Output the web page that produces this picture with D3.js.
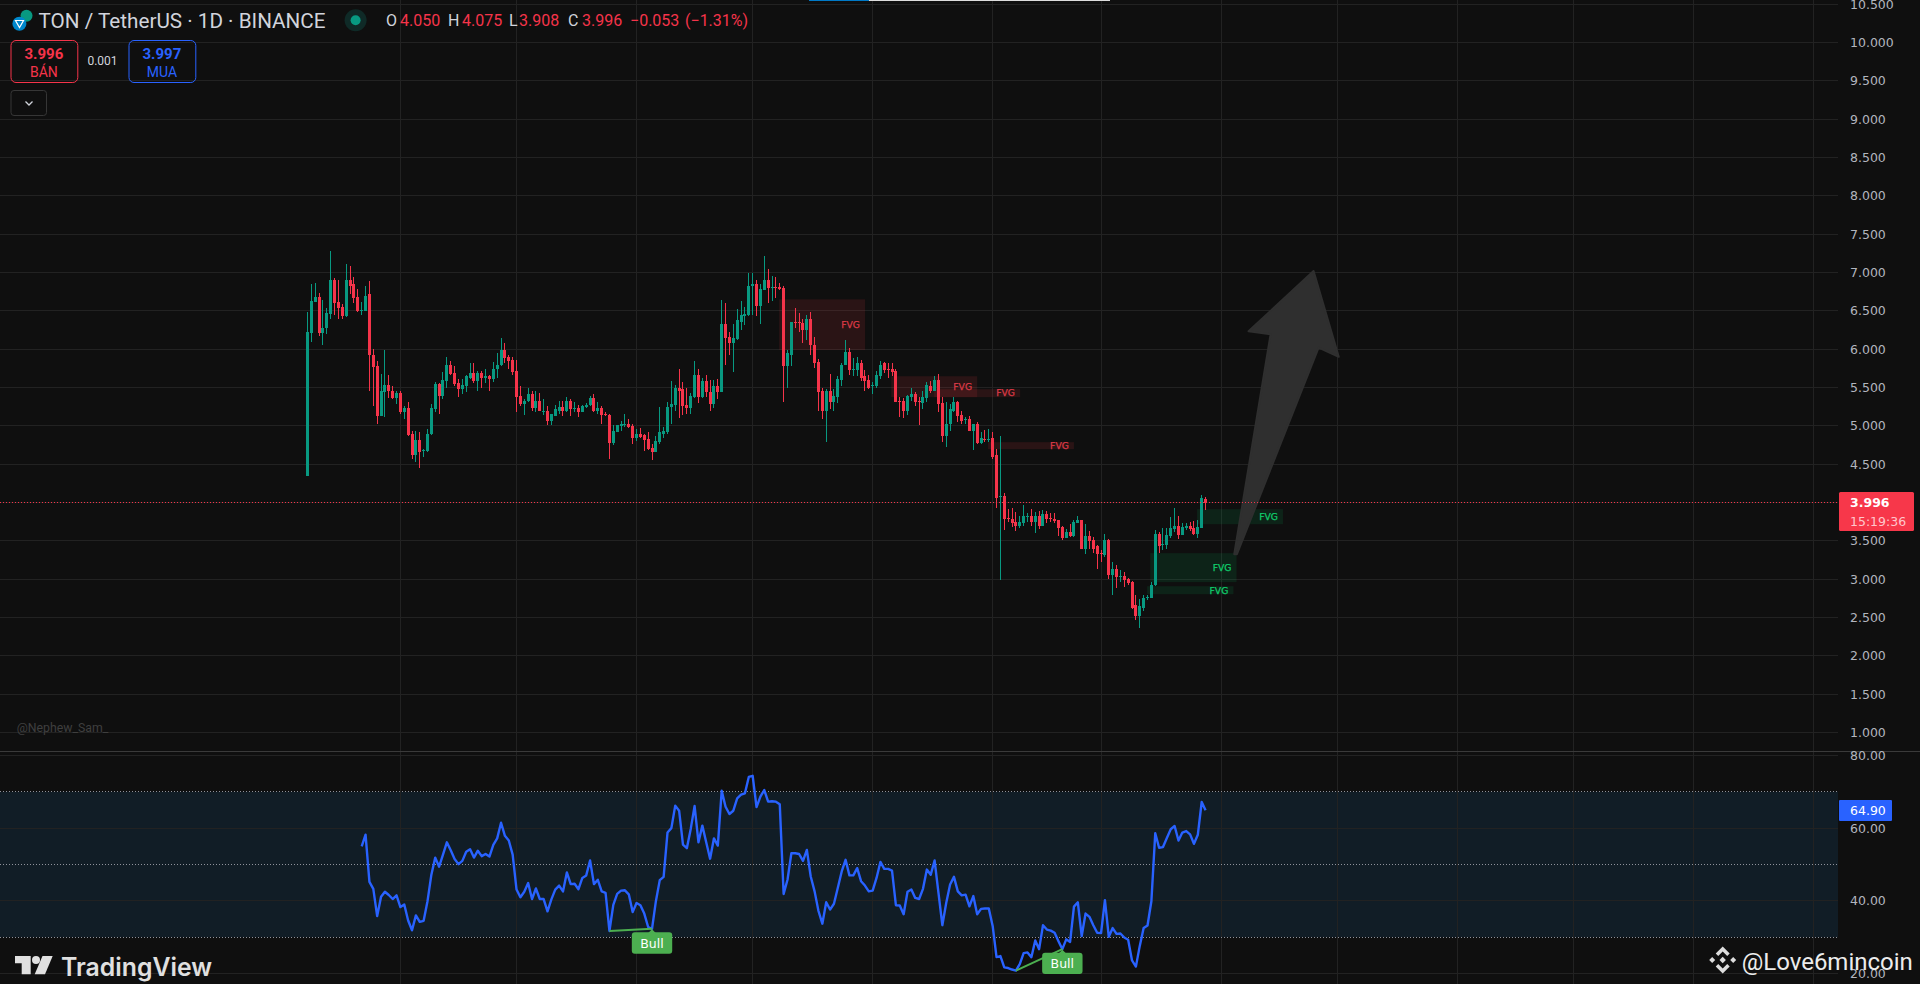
<!DOCTYPE html>
<html><head><meta charset="utf-8"><title>TON / TetherUS</title>
<script src="https://cdn.jsdelivr.net/npm/d3@7"></script>
<style>
html,body{margin:0;padding:0;background:#0f0f0f;overflow:hidden}
svg{display:block}
</style></head><body><svg id="c" width="1920" height="984"></svg>
<script>
const opens=[4.34,6.21,6.61,6.68,6.21,6.27,6.46,6.90,6.61,6.55,
6.43,6.90,6.85,6.68,6.50,6.50,6.72,5.93,5.78,5.13,
5.44,5.53,5.46,5.36,5.43,5.18,5.23,4.89,4.62,4.81,
4.67,4.67,4.89,5.22,5.54,5.39,5.58,5.79,5.69,5.56,
5.48,5.52,5.63,5.69,5.58,5.69,5.62,5.65,5.61,5.74,
5.79,5.99,5.90,5.86,5.71,5.39,5.28,5.32,5.41,5.23,
5.32,5.19,5.20,5.06,5.13,5.20,5.24,5.19,5.33,5.22,
5.23,5.18,5.24,5.27,5.36,5.19,5.23,5.15,5.14,4.77,
4.92,5.00,5.01,5.02,5.00,4.84,4.90,4.88,4.83,4.71,
4.66,4.79,4.90,4.92,5.24,5.27,5.50,5.48,5.27,5.23,
5.37,5.66,5.37,5.58,5.44,5.28,5.52,5.44,6.33,6.16,
6.08,6.13,6.36,6.43,6.44,6.82,6.85,6.56,6.77,6.90,
6.80,6.81,6.81,6.80,5.78,5.93,6.35,6.35,6.34,6.25,
6.40,6.06,5.83,5.45,5.19,5.46,5.31,5.37,5.60,5.79,
5.96,5.73,5.73,5.82,5.65,5.60,5.52,5.52,5.65,5.82,
5.74,5.74,5.71,5.32,5.32,5.19,5.37,5.41,5.32,5.30,
5.36,5.52,5.46,5.60,5.30,4.87,5.02,5.20,5.31,5.14,
5.07,5.09,4.93,5.02,4.77,4.83,4.81,4.84,4.62,4.07,
4.08,3.80,3.78,3.74,3.70,3.73,3.81,3.82,3.74,3.83,
3.70,3.85,3.80,3.78,3.77,3.68,3.54,3.61,3.56,3.73,
3.77,3.40,3.56,3.51,3.43,3.34,3.31,3.51,3.05,3.13,
3.03,3.04,3.00,2.96,2.66,2.52,2.63,2.75,2.75,2.92,
3.59,3.44,3.44,3.56,3.65,3.70,3.57,3.67,3.69,3.67,
3.59,3.67,4.05];
const closes=[6.22,6.63,6.68,6.21,6.27,6.47,6.90,6.60,6.54,6.43,
6.90,6.83,6.67,6.50,6.51,6.70,5.92,5.77,5.13,5.45,
5.53,5.45,5.36,5.43,5.18,5.23,4.88,4.62,4.81,4.66,
4.68,4.90,5.23,5.54,5.39,5.60,5.79,5.67,5.54,5.48,
5.53,5.65,5.69,5.58,5.69,5.62,5.65,5.61,5.74,5.80,
5.99,5.88,5.84,5.70,5.37,5.28,5.33,5.41,5.23,5.32,
5.19,5.20,5.06,5.15,5.22,5.24,5.19,5.33,5.22,5.23,
5.18,5.26,5.27,5.36,5.19,5.23,5.14,5.14,4.77,4.93,
5.01,5.02,5.02,4.98,4.84,4.90,4.86,4.81,4.70,4.66,
4.80,4.92,4.93,5.24,5.28,5.50,5.46,5.26,5.23,5.39,
5.66,5.37,5.58,5.44,5.28,5.52,5.44,6.33,6.14,6.08,
6.14,6.38,6.44,6.46,6.83,6.85,6.56,6.78,6.90,6.80,
6.81,6.80,6.78,5.78,5.95,6.35,6.34,6.34,6.25,6.40,
6.05,5.82,5.44,5.19,5.45,5.31,5.39,5.61,5.80,5.96,
5.73,5.74,5.82,5.63,5.58,5.50,5.53,5.66,5.80,5.73,
5.73,5.70,5.31,5.31,5.19,5.39,5.41,5.31,5.31,5.37,
5.53,5.46,5.60,5.28,4.87,5.03,5.22,5.31,5.13,5.06,
5.09,4.93,5.02,4.77,4.84,4.81,4.83,4.60,4.06,4.08,
3.78,3.78,3.73,3.70,3.74,3.82,3.82,3.74,3.83,3.70,
3.85,3.78,3.78,3.76,3.67,3.54,3.61,3.56,3.74,3.77,
3.40,3.56,3.50,3.40,3.33,3.33,3.51,3.05,3.13,3.03,
3.04,2.99,2.95,2.63,2.52,2.65,2.75,2.77,2.93,3.59,
3.43,3.46,3.57,3.67,3.70,3.57,3.68,3.69,3.65,3.59,
3.68,4.06,3.996];
const highs=[6.48,6.85,6.86,6.73,6.64,6.54,7.28,6.93,6.90,6.59,
7.11,7.08,6.94,6.78,6.61,6.82,6.89,6.00,5.84,5.67,
5.99,5.66,5.52,5.46,5.46,5.26,5.31,4.93,4.93,4.92,
4.70,4.96,5.28,5.57,5.56,5.70,5.90,5.84,5.78,5.61,
5.61,5.66,5.82,5.82,5.71,5.71,5.74,5.66,5.83,5.95,
6.14,6.08,5.92,5.90,5.86,5.52,5.35,5.49,5.46,5.46,
5.43,5.35,5.26,5.16,5.27,5.32,5.32,5.37,5.35,5.31,
5.27,5.27,5.30,5.39,5.41,5.31,5.26,5.18,5.15,5.01,
5.01,5.06,5.15,5.09,5.02,4.96,4.97,4.90,4.92,4.76,
4.87,5.24,4.98,5.31,5.58,5.53,5.74,5.57,5.49,5.43,
5.84,5.74,5.62,5.66,5.60,5.60,5.61,6.64,6.60,6.22,
6.33,6.52,6.63,6.55,7.00,6.99,6.90,6.85,7.21,7.04,
6.96,6.94,6.86,6.82,5.99,6.36,6.54,6.47,6.40,6.44,
6.48,6.16,5.87,5.50,5.48,5.67,5.48,5.65,5.82,6.12,
6.01,5.88,5.90,5.86,5.73,5.66,5.57,5.71,5.84,5.83,
5.82,5.82,5.74,5.37,5.36,5.40,5.49,5.44,5.37,5.45,
5.57,5.58,5.65,5.67,5.37,5.31,5.28,5.37,5.33,5.19,
5.11,5.13,5.03,5.05,4.92,4.94,4.96,4.92,4.70,4.87,
4.12,3.91,3.93,3.87,3.82,3.97,3.86,3.91,3.87,3.89,
3.90,3.89,3.86,3.86,3.77,3.69,3.65,3.72,3.77,3.82,
3.77,3.72,3.63,3.55,3.44,3.38,3.59,3.52,3.22,3.18,
3.12,3.09,3.01,2.97,2.80,2.74,2.79,2.79,2.96,3.64,
3.61,3.67,3.67,3.81,3.93,3.82,3.73,3.73,3.74,3.76,
3.77,4.10,4.075];
const lows=[4.34,6.09,6.61,6.17,6.06,6.20,6.40,6.44,6.39,6.39,
6.42,6.72,6.60,6.48,6.44,6.50,5.46,5.26,5.03,5.13,
5.11,5.36,5.35,5.28,5.15,5.09,4.87,4.57,4.53,4.45,
4.59,4.66,4.88,5.18,5.16,5.35,5.49,5.66,5.52,5.37,
5.41,5.44,5.61,5.56,5.45,5.50,5.56,5.46,5.57,5.63,
5.78,5.82,5.74,5.66,5.18,5.26,5.14,5.31,5.19,5.18,
5.19,5.14,5.01,5.01,5.13,5.16,5.13,5.18,5.13,5.18,
5.11,5.18,5.23,5.26,5.18,5.15,5.02,5.13,4.57,4.75,
4.92,4.93,4.98,4.97,4.76,4.80,4.84,4.67,4.68,4.55,
4.66,4.76,4.84,4.90,5.02,5.19,5.10,5.14,5.15,5.16,
5.36,5.30,5.36,5.37,5.19,5.23,5.35,5.44,5.79,5.92,
5.70,6.12,6.25,6.31,6.43,6.44,6.43,6.33,6.77,6.60,
6.63,6.67,6.77,5.31,5.50,5.78,6.27,6.22,6.08,6.12,
5.92,5.76,5.20,5.09,4.79,5.22,5.20,5.30,5.52,5.79,
5.66,5.65,5.65,5.58,5.46,5.48,5.41,5.50,5.61,5.69,
5.63,5.65,5.31,5.11,5.10,5.14,5.33,5.26,5.01,5.22,
5.31,5.43,5.46,5.18,4.79,4.72,4.93,5.18,5.05,5.02,
5.02,4.93,4.68,4.76,4.76,4.79,4.79,4.57,3.93,2.99,
3.64,3.74,3.68,3.63,3.67,3.70,3.74,3.70,3.60,3.65,
3.70,3.73,3.74,3.73,3.56,3.51,3.54,3.55,3.55,3.73,
3.39,3.33,3.39,3.34,3.13,3.22,3.29,3.00,2.80,2.88,
2.96,2.90,2.93,2.61,2.47,2.36,2.58,2.73,2.75,2.91,
3.34,3.38,3.40,3.54,3.61,3.52,3.57,3.64,3.63,3.57,
3.54,3.67,3.908];
const rsiStart=14;
const rsiValues=[55.0,58.2,45.2,43.3,35.8,41.1,42.5,41.6,40.5,41.5,38.3,39.0,34.6,31.9,36.0,34.2,34.5,39.9,47.2,51.9,
49.4,52.7,56.1,53.9,51.5,50.1,51.0,53.5,54.2,51.9,53.8,52.3,52.9,52.2,55.4,57.2,61.5,57.9,56.6,52.7,
43.1,41.0,42.5,44.9,40.5,43.4,40.5,40.5,37.1,40.4,43.1,44.2,42.6,47.8,44.6,44.7,43.2,46.3,47.0,51.1,
44.6,45.8,42.6,42.2,31.7,38.9,41.9,42.8,42.9,41.8,36.9,39.4,38.8,36.5,32.8,32.3,39.9,45.7,46.6,58.8,
60.0,66.2,64.8,55.5,54.5,59.8,66.1,56.1,60.7,56.1,51.6,57.2,55.2,70.3,65.9,63.9,64.8,68.2,69.2,69.6,
74.1,74.4,65.8,68.7,70.5,67.3,67.4,67.3,66.6,41.9,45.8,53.1,53.1,52.9,51.0,54.0,46.7,42.6,37.2,33.7,
39.6,37.6,39.2,43.6,48.1,51.3,47.0,47.0,49.0,45.4,44.2,42.6,42.8,46.3,50.7,48.8,48.8,48.3,38.8,38.7,
36.3,42.5,43.1,40.8,40.5,43.3,48.6,47.2,51.1,42.2,33.3,39.4,44.5,46.6,42.6,41.5,41.7,38.5,41.3,36.3,
37.8,37.9,37.9,33.1,24.5,24.8,21.7,21.5,21.1,20.8,22.6,25.6,25.8,24.5,29.1,26.7,33.3,32.1,31.8,31.2,
28.9,26.7,29.4,28.7,38.4,39.6,30.3,36.5,35.6,33.3,31.2,31.1,40.2,30.1,32.5,30.9,31.0,29.9,29.3,23.6,
21.9,27.6,32.5,33.2,39.9,58.6,54.6,54.8,57.3,59.7,60.6,56.6,58.8,59.2,58.3,55.7,58.2,67.2,64.9];
const priceTicks=[1,1.5,2,2.5,3,3.5,4.5,5,5.5,6,6.5,7,7.5,8,8.5,9,9.5,10,10.5];
const rsiTicks=[20,40,60,80];
const rsiBands=[30,50,70];
const monthTicks=[24,54,85,115,146,177,205,236,266,297,327,358,389];
const fvgStart=[121.85,150.8,161.9,175.8,229.8,217.7,216.9];
const fvgEnd=[144.05,173,184.1,198,252,240,239.2];
const fvgTop=[6.65,5.647,5.478,4.787,3.913,3.339,2.908];
const fvgBottom=[5.99,5.374,5.374,4.696,3.717,2.961,2.804];
const fvgBull=[false,false,false,false,true,true,true];
const bullFrom=[78,183];
const bullTo=[89,195];
const arrowIdx=[239.4,240.1,261.2,266.4,259.9,243.1,248.8];
const arrowPrice=[3.326,3.326,6.02,5.90,7.02,6.234,6.195];
const lastPrice=3.996, askPrice=3.997, lastRsi=64.90;

const UP='#089981',DOWN='#f5344a',GRID='#222222',TXT='#b2b5be',FONT='Roboto, sans-serif';
const svg=d3.select('#c');
const W=1838;
const x=d3.scaleLinear().domain([0,1]).range([307.5,311.371]);
const yP=d3.scaleLinear().domain([7,2.5]).range([272.5,617.5]);
const yR=d3.scaleLinear().domain([80,20]).range([755.5,973.5]);
const snap=v=>Math.floor(v)+0.5;

// band behind grid
svg.append('rect').attr('x',0).attr('width',W).attr('y',yR(70)).attr('height',yR(30)-yR(70)).attr('fill','#111d26');

// grid
const grid=svg.append('g').attr('shape-rendering','crispEdges');
grid.selectAll('.v').data(monthTicks).join('line').attr('x1',d=>snap(x(d))).attr('x2',d=>snap(x(d))).attr('y1',0).attr('y2',984).attr('stroke',GRID);
grid.selectAll('.h').data(priceTicks.concat([4])).join('line').attr('x1',0).attr('x2',W).attr('y1',d=>snap(yP(d))).attr('y2',d=>snap(yP(d))).attr('stroke',GRID);
grid.selectAll('.r').data(rsiTicks).join('line').attr('x1',0).attr('x2',W).attr('y1',d=>snap(yR(d))).attr('y2',d=>snap(yR(d))).attr('stroke',GRID);

// pane separator
svg.append('line').attr('x1',0).attr('x2',1920).attr('y1',751.5).attr('y2',751.5).attr('stroke','#3a3a3a').attr('shape-rendering','crispEdges');

// RSI band levels
svg.append('g').selectAll('line').data(rsiBands).join('line').attr('x1',0).attr('x2',W).attr('y1',d=>snap(yR(d))).attr('y2',d=>snap(yR(d))).attr('stroke','#8f929b').attr('stroke-dasharray','1 2').attr('shape-rendering','crispEdges');

// FVG boxes
const fvg=d3.range(fvgStart.length);
svg.append('g').selectAll('rect').data(fvg).join('rect')
 .attr('x',i=>x(fvgStart[i])).attr('width',i=>x(fvgEnd[i])-x(fvgStart[i]))
 .attr('y',i=>yP(fvgTop[i])).attr('height',i=>yP(fvgBottom[i])-yP(fvgTop[i]))
 .attr('fill',i=>fvgBull[i]?'rgba(0,200,100,0.11)':'rgba(242,54,69,0.12)');

// candles
const idx=d3.range(opens.length);
const cg=svg.append('g').attr('shape-rendering','crispEdges');
cg.selectAll('.w').data(idx).join('rect').attr('x',i=>Math.floor(x(i))).attr('width',1)
 .attr('y',i=>yP(highs[i])).attr('height',i=>Math.max(1,yP(lows[i])-yP(highs[i])))
 .attr('fill',i=>closes[i]>=opens[i]?UP:DOWN);
cg.selectAll('.b').data(idx).join('rect').attr('x',i=>Math.floor(x(i))-1).attr('width',3)
 .attr('y',i=>yP(Math.max(opens[i],closes[i]))).attr('height',i=>Math.max(1,Math.abs(yP(opens[i])-yP(closes[i]))))
 .attr('fill',i=>closes[i]>=opens[i]?UP:DOWN);

// FVG labels
svg.append('g').selectAll('text').data(fvg).join('text')
 .attr('x',i=>x(fvgEnd[i])-14.5).attr('y',i=>(yP(fvgTop[i])+yP(fvgBottom[i]))/2).attr('dy','0.36em')
 .attr('text-anchor','middle').attr('font-family','"DejaVu Sans"').attr('font-size',9.2).attr('font-weight',500)
 .attr('stroke-width',0.25).attr('stroke',i=>fvgBull[i]?'#10cc6c':'#dc3a47')
 .attr('fill',i=>fvgBull[i]?'#10cc6c':'#dc3a47').text('FVG');

// arrow
svg.append('polygon').attr('points',arrowIdx.map((d,i)=>[x(d),yP(arrowPrice[i])].join(',')).join(' '))
 .attr('fill','#2f2f2f').attr('stroke','#2f2f2f').attr('stroke-width',2).attr('stroke-linejoin','round');

// last price line
svg.append('line').attr('x1',0).attr('x2',W).attr('y1',snap(yP(lastPrice))).attr('y2',snap(yP(lastPrice))).attr('stroke',DOWN).attr('stroke-dasharray','1 2').attr('shape-rendering','crispEdges');

// RSI
const rsiLine=d3.line().x((d,i)=>x(i+rsiStart)).y(d=>yR(d));
svg.append('path').datum(rsiValues).attr('d',rsiLine).attr('fill','none').attr('stroke','#2962ff').attr('stroke-width',2.4).attr('stroke-linejoin','round');

// Bull divergence
const rv=i=>rsiValues[i-rsiStart];
bullFrom.forEach((a,k)=>{
  const b=bullTo[k];
  svg.append('line').attr('x1',x(a)).attr('y1',yR(rv(a))).attr('x2',x(b)).attr('y2',yR(rv(b))).attr('stroke','#4caf50').attr('stroke-width',2);
  const cx=x(b),top=yR(rv(b))+2.5;
  svg.append('path').attr('d',`M${cx-4},${top+2}L${cx},${top-2}L${cx+4},${top+2}Z`).attr('fill','#4caf50');
  svg.append('rect').attr('x',cx-20.2).attr('width',40.4).attr('y',top+1).attr('height',21.4).attr('rx',3).attr('fill','#4caf50');
  svg.append('text').attr('x',cx).attr('y',top+11.7).attr('dy','0.36em').attr('text-anchor','middle').attr('font-family','"DejaVu Sans"').attr('font-size',12.5).attr('fill','#fff').text('Bull');
});

// axes
function styleAxis(g){g.select('.domain').remove();g.selectAll('line').remove();
 g.selectAll('text').attr('x',0).attr('fill',TXT).attr('font-family','"DejaVu Sans"').attr('font-size',12.5);}
svg.append('g').attr('transform','translate(1850,0)').call(d3.axisRight(yP).tickValues(priceTicks).tickFormat(d3.format('.3f'))).call(styleAxis);
svg.append('g').attr('transform','translate(1850,0)').call(d3.axisRight(yR).tickValues(rsiTicks).tickFormat(d3.format('.2f'))).call(styleAxis);

// price tag
svg.append('rect').attr('x',1839).attr('y',492).attr('width',75).attr('height',39).attr('rx',1.5).attr('fill','#f7374a');
svg.append('text').attr('x',1850).attr('y',yP(lastPrice)).attr('dy','0.36em').attr('fill','#fff').attr('font-weight','bold').attr('font-family','"DejaVu Sans"').attr('font-size',12.5).text(lastPrice.toFixed(3));
svg.append('text').attr('x',1850).attr('y',521).attr('dy','0.36em').attr('fill','#ffc6cc').attr('font-family','"DejaVu Sans"').attr('font-size',12.5).text('15:19:36');
// rsi tag
svg.append('rect').attr('x',1839).attr('y',800).attr('width',53).attr('height',21).attr('rx',1).attr('fill','#2962ff');
svg.append('text').attr('x',1850).attr('y',810.5).attr('dy','0.36em').attr('fill','#fff').attr('font-family','"DejaVu Sans"').attr('font-size',12.5).text(lastRsi.toFixed(2));

// top bar
svg.append('rect').attr('x',809).attr('y',0).attr('width',60).attr('height',1).attr('fill','#0079c6');
svg.append('rect').attr('x',869).attr('y',0).attr('width',241).attr('height',1).attr('fill','#dddddd');

// header
const head=svg.append('g').attr('font-family',FONT);
head.append('circle').attr('cx',26.5).attr('cy',15.7).attr('r',6).attr('fill','#089981');
head.append('circle').attr('cx',19.4).attr('cy',23.7).attr('r',7).attr('fill','#0088cc');
head.append('path').attr('d','M15.5,20.5h8l-4,7z').attr('fill','none').attr('stroke','#fff').attr('stroke-width',1.2);
head.append('text').attr('x',38.5).attr('y',20.5).attr('dy','0.36em').attr('font-size',20.7).attr('fill','#d1d4dc').text('TON / TetherUS · 1D · BINANCE');
head.append('circle').attr('cx',355.6).attr('cy',20.3).attr('r',11).attr('fill','#0f2a27');
head.append('circle').attr('cx',355.6).attr('cy',20.3).attr('r',5).attr('fill','#089981');
[[386,'O','#d1d4dc'],[400,'4.050',DOWN],[448,'H','#d1d4dc'],[462,'4.075',DOWN],[509,'L','#d1d4dc'],[519,'3.908',DOWN],[568,'C','#d1d4dc'],[582,'3.996',DOWN],[630,'−0.053',DOWN],[685,'(−1.31%)',DOWN]].forEach(d=>{
 head.append('text').attr('x',d[0]).attr('y',20.5).attr('dy','0.36em').attr('font-size',16).attr('fill',d[2]).text(d[1]);
});
function btn(x0,col,val,lab){
 head.append('rect').attr('x',x0+.5).attr('y',40.5).attr('width',66.8).attr('height',42).attr('rx',5).attr('fill','none').attr('stroke',col);
 head.append('text').attr('x',x0+33.4).attr('y',53.7).attr('dy','0.36em').attr('text-anchor','middle').attr('font-size',15).attr('font-weight','bold').attr('fill',col).text(val);
 head.append('text').attr('x',x0+33.4).attr('y',71.5).attr('dy','0.36em').attr('text-anchor','middle').attr('font-size',14).attr('fill',col).text(lab);
}
btn(10.5,DOWN,lastPrice.toFixed(3),'BÁN');
btn(128.5,'#2962ff',askPrice.toFixed(3),'MUA');
head.append('text').attr('x',102.5).attr('y',60.7).attr('dy','0.36em').attr('text-anchor','middle').attr('font-size',12).attr('fill','#d1d4dc').text('0.001');
head.append('rect').attr('x',11).attr('y',90.5).attr('width',35.5).attr('height',25).attr('rx',3).attr('fill','none').attr('stroke','#363636');
head.append('path').attr('d','M25.5,101.5l3.5,3.5l3.5,-3.5').attr('fill','none').attr('stroke','#d1d4dc').attr('stroke-width',1.3);

// watermarks
svg.append('text').attr('x',16.7).attr('y',727.7).attr('dy','0.36em').attr('font-family',FONT).attr('font-size',12.3).attr('fill','#3f3f3f').text('@Nephew_Sam_');
const tv=svg.append('g').attr('fill','#e0e0e0');
tv.append('path').attr('d','M15,956H30.7V974.3H21.7V963.3H15Z');
tv.append('circle').attr('cx',36).attr('cy',960).attr('r',4);
tv.append('path').attr('d','M42.5,956H52.7L45,974.3H34.7Z');
tv.append('text').attr('x',61).attr('y',966.5).attr('dy','0.36em').attr('font-family','Inter, sans-serif').attr('font-weight',600).attr('font-size',25).attr('textLength',151).attr('lengthAdjust','spacingAndGlyphs').text('TradingView');
const bn=svg.append('g').attr('transform','translate(1722.7,960)').attr('fill','#dddddd');
bn.append('path').attr('d','M0,-13.5L7,-6.5L4.5,-4L0,-8.5L-4.5,-4L-7,-6.5Z');
bn.append('path').attr('d','M0,13.5L7,6.5L4.5,4L0,8.5L-4.5,4L-7,6.5Z');
bn.append('path').attr('d','M-13.5,0L-10.5,-3L-7.5,0L-10.5,3Z');
bn.append('path').attr('d','M13.5,0L10.5,-3L7.5,0L10.5,3Z');
bn.append('path').attr('d','M0,-3.2L3.2,0L0,3.2L-3.2,0Z');
svg.append('text').attr('x',1741.7).attr('y',961.7).attr('dy','0.36em').attr('font-family',FONT).attr('font-size',24).attr('fill','#ececec').text('@Love6mincoin');
</script></body></html>
